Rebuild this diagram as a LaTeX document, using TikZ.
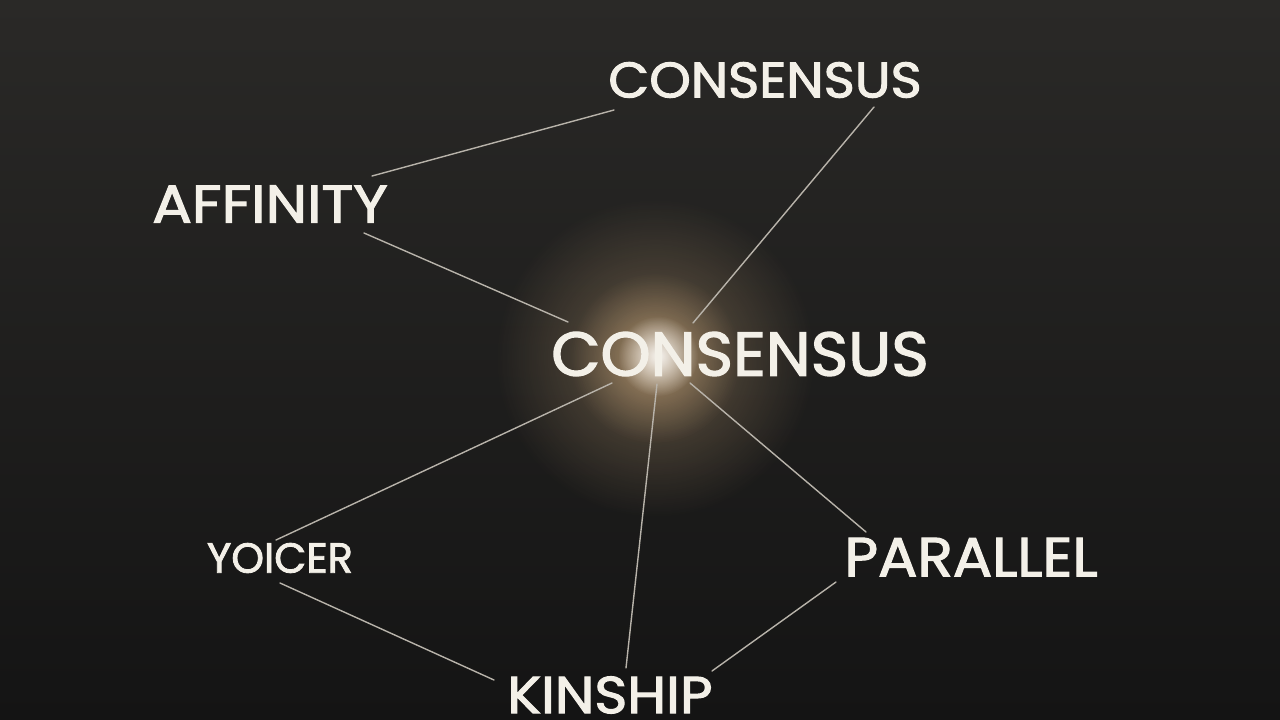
\documentclass[tikz,border=0pt]{standalone}
\usepackage{fontspec}
\usepackage{graphicx}
\setmainfont{Poppins}[FakeBold=2]
\usetikzlibrary{fadings}
\definecolor{bgtop}{HTML}{2A2927}
\definecolor{bgbot}{HTML}{141414}
\definecolor{wordcol}{HTML}{F3F0E8}
\definecolor{linecol}{HTML}{B8B3AA}
\definecolor{glowcol}{HTML}{EEC48E}
\tikzfading[name=glowfade, inner color=transparent!0, outer color=transparent!100]
\begin{document}
\begin{tikzpicture}[x=1pt,y=-1pt,
  word/.style={text=wordcol, inner sep=0pt, anchor=center},
  link/.style={draw=linecol, line width=1.4pt, line cap=round}]
\useasboundingbox (0,0) rectangle (1280,720);
\shade[top color=bgtop, bottom color=bgbot] (0,0) rectangle (1280,720);
% glow
\fill[glowcol, path fading=glowfade, opacity=0.35] (655,358) circle (160);
\fill[glowcol, path fading=glowfade, opacity=0.5] (655,358) circle (85);
\fill[white, path fading=glowfade, opacity=0.9] (658,356) circle (40);
% words
\node[word, font=\fontsize{50}{50}\selectfont] (top) at (765,80) {\scalebox{1.06}[1]{CONSENSUS}};
\node[word, font=\fontsize{62}{62}\selectfont] (mid) at (740,354) {\scalebox{1.03}[1]{CONSENSUS}};
\node[word, font=\fontsize{53}{53}\selectfont] (aff) at (270,204) {\scalebox{1.11}[1]{AFFINITY}};
\node[word, font=\fontsize{42}{42}\selectfont] (yoi) at (280,558) {\scalebox{0.99}[1]{YOICER}};
\node[word, font=\fontsize{55}{55}\selectfont] (par) at (971,557) {\scalebox{1.06}[1]{PARALLEL}};
\node[word, font=\fontsize{52}{52}\selectfont] (kin) at (610,695) {\scalebox{1.08}[1]{KINSHIP}};
% links
\draw[link] ([shift={(102,-28)}]aff.center) -- ([shift={(-151,30)}]top.center);
\draw[link] ([shift={(109,27)}]top.center) -- ([shift={(-47,-31)}]mid.center);
\draw[link] ([shift={(94,29)}]aff.center) -- ([shift={(-172,-32)}]mid.center);
\draw[link] ([shift={(-128,29)}]mid.center) -- ([shift={(-4,-18)}]yoi.center);
\draw[link] ([shift={(-83,30)}]mid.center) -- ([shift={(16,-27)}]kin.center);
\draw[link] ([shift={(-50,29)}]mid.center) -- ([shift={(-105,-25)}]par.center);
\draw[link] ([shift={(0,25)}]yoi.center) -- ([shift={(-116,-15)}]kin.center);
\draw[link] ([shift={(-135,25)}]par.center) -- ([shift={(102,-24)}]kin.center);
\end{tikzpicture}
\end{document}
